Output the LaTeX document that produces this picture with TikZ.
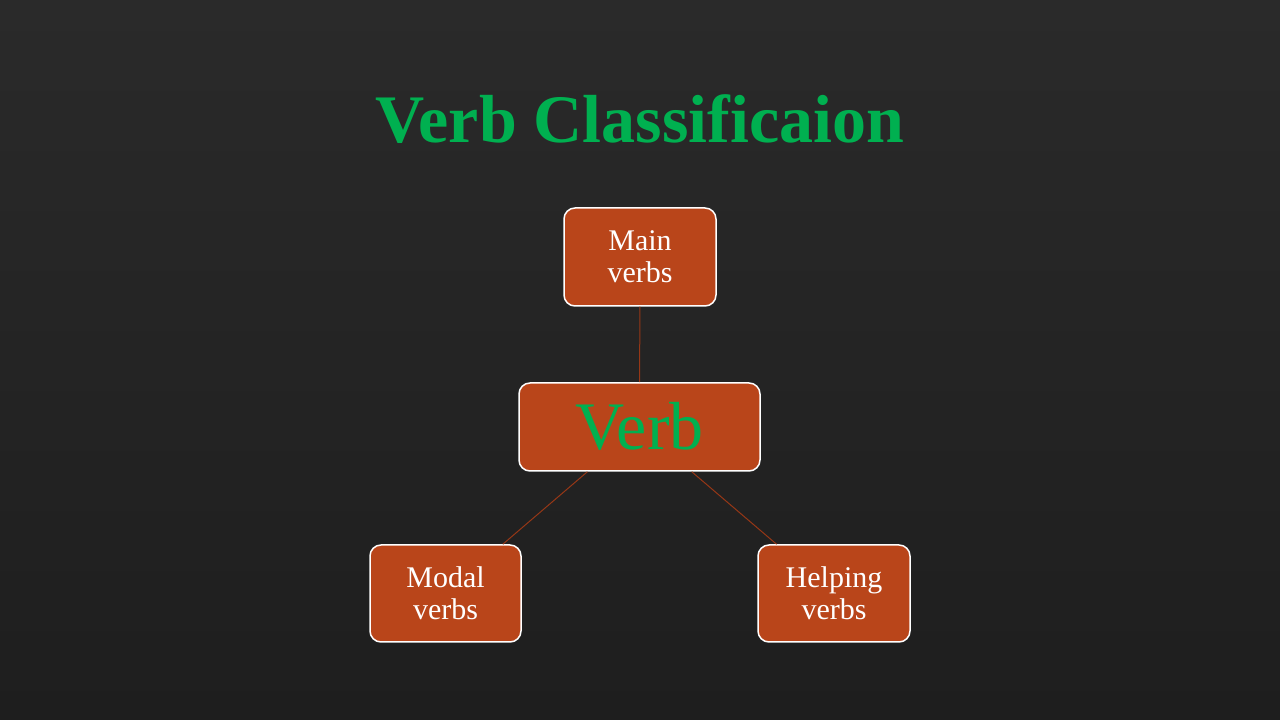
\documentclass[tikz,border=0pt]{standalone}
\usepackage{fontspec}
\setmainfont{Liberation Serif}
\definecolor{boxfill}{RGB}{185,69,26}
\definecolor{linkline}{RGB}{150,55,22}
\definecolor{titlegreen}{RGB}{0,176,80}
\definecolor{bgtop}{RGB}{42,42,42}
\definecolor{bgbottom}{RGB}{30,30,30}
\tikzset{
	verbbox/.style={draw=white, line width=1.5pt, fill=boxfill, rounded corners=11pt,
		text=white, align=center, inner sep=0pt,
		font=\fontsize{30}{32}\selectfont},
	link/.style={draw=linkline, line width=1pt}
}
\begin{document}
\begin{tikzpicture}[x=1pt,y=1pt]
	
	\shade[top color=bgtop, bottom color=bgbottom] (0,0) rectangle (1280,720);
	\useasboundingbox (0,0) rectangle (1280,720);
	
	\node[text=titlegreen, font=\fontsize{68}{72}\selectfont\bfseries] (title) at (640,601) {Verb Classificaion};
	
	\node[verbbox, minimum width=152pt, minimum height=98pt] (main) at (640,463) {Main\\verbs};
	\node[verbbox, minimum width=241pt, minimum height=88pt, text=titlegreen,
		font=\fontsize{68}{70}\selectfont] (verb) at (639.5,293) {\raisebox{3pt}{Verb}};
	\node[verbbox, minimum width=151pt, minimum height=97pt] (modal) at (445.5,126.5) {Modal\\verbs};
	\node[verbbox, minimum width=152pt, minimum height=97pt] (helping) at (834,126.5) {Helping\\verbs};
	
	\draw[link] (main) -- (verb);
	\draw[link] (verb) -- (modal);
	\draw[link] (verb) -- (helping);
\end{tikzpicture}
\end{document}
